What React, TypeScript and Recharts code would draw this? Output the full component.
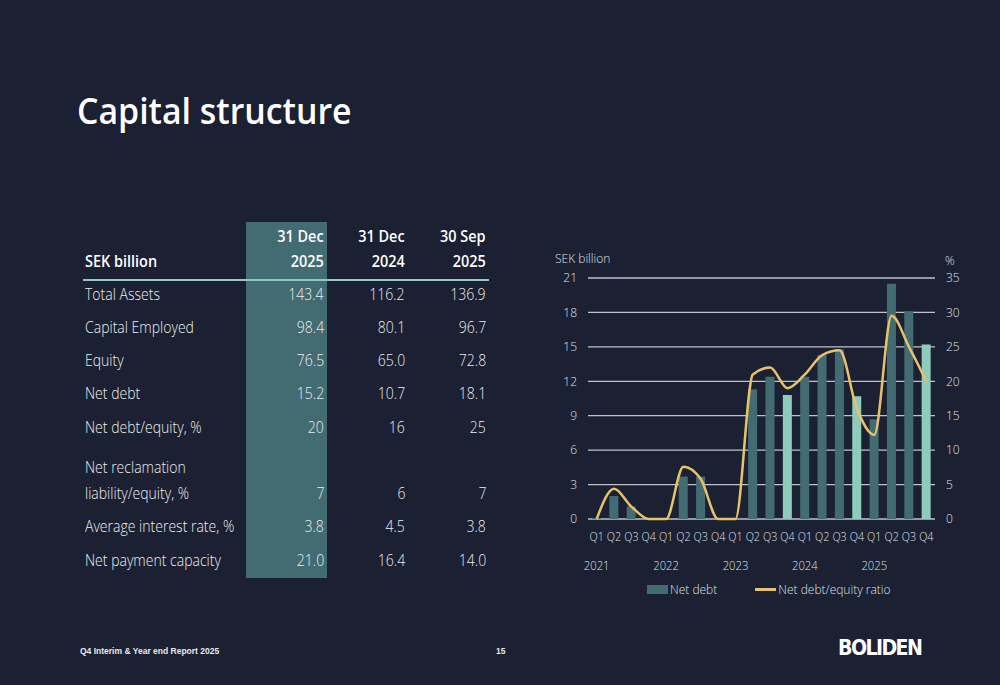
import { ComposedChart, Bar, Line, XAxis, YAxis, CartesianGrid, Cell } from "recharts";

const quarters = [
  "Q1", "Q2", "Q3", "Q4", "Q1", "Q2", "Q3", "Q4", "Q1", "Q2",
  "Q3", "Q4", "Q1", "Q2", "Q3", "Q4", "Q1", "Q2", "Q3", "Q4",
];
const years = [
  "2021", "2021", "2021", "2021", "2022", "2022", "2022", "2022", "2023", "2023",
  "2023", "2023", "2024", "2024", "2024", "2024", "2025", "2025", "2025", "2025",
];
const netDebt = [
  0.1, 2.0, 1.1, 0, 0, 3.7, 3.7, 0, 0, 11.3,
  12.4, 10.8, 12.4, 14.3, 14.8, 10.7, 8.7, 20.5, 18.1, 15.2,
];
const debtEquityRatio = [
  0, 4.4, 1.8, 0, 0, 7.6, 5.8, 0, 0, 21.0,
  22.0, 19.0, 21.0, 23.8, 24.5, 16.0, 12.2, 29.5, 25.0, 20.0,
];
const leftTicks = [0, 3, 6, 9, 12, 15, 18, 21];
const rightTicks = [0, 5, 10, 15, 20, 25, 30, 35];

const tableHeadTop = ["31 Dec", "31 Dec", "30 Sep"];
const tableHeadBottom = ["2025", "2024", "2025"];
const rowLabels = [
  "Total Assets",
  "Capital Employed",
  "Equity",
  "Net debt",
  "Net debt/equity, %",
  "Net reclamation\nliability/equity, %",
  "Average interest rate, %",
  "Net payment capacity",
];
const dec2025 = ["143.4", "98.4", "76.5", "15.2", "20", "7", "3.8", "21.0"];
const dec2024 = ["116.2", "80.1", "65.0", "10.7", "16", "6", "4.5", "16.4"];
const sep2025 = ["136.9", "96.7", "72.8", "18.1", "25", "7", "3.8", "14.0"];

const BG = "#1b2032";
const DARK = "#436b72";
const LIGHT = "#8ecbba";
const GOLD = "#e8c26a";
const FONT = "'Open Sans', sans-serif";
const TICK = "#dfe2e6";

const chartData = quarters.map((q, i) => ({
  key: `${years[i]} ${q}`,
  netDebt: netDebt[i],
  ratio: debtEquityRatio[i],
}));

const QuarterTick = (props: any) => {
  const { x, y, payload } = props;
  const [year, q] = String(payload.value).split(" ");
  return (
    <g>
      <text
        transform={`translate(${x},${y + 14}) scale(0.86,1)`}
        textAnchor="middle"
        fill={TICK}
        fontSize={12.5}
        fontFamily={FONT}
        fontWeight={300}
      >
        {q}
      </text>
      {q === "Q1" && (
        <text
          transform={`translate(${x},${y + 43}) scale(0.9,1)`}
          textAnchor="middle"
          fill={TICK}
          fontSize={12.5}
          fontFamily={FONT}
          fontWeight={300}
        >
          {year}
        </text>
      )}
    </g>
  );
};

const rowCenters = [294, 327, 360, 393, 427, 480, 526, 560];
const colRights = [324, 405, 486];

// narrow the text like the slide's font does
const TableText = ({ text, x, center, align, bold }: { text: string; x: number; center: number; align: "left" | "right"; bold?: boolean }) => (
  <div
    style={{
      position: "absolute",
      ...(align === "left" ? { left: x } : { right: 1000 - x }),
      top: center - 12,
      height: 24,
      lineHeight: "24px",
      fontSize: bold ? 17 : 16.5,
      fontWeight: bold ? 600 : 300,
      color: bold ? "#ffffff" : "#eceef0",
      whiteSpace: "nowrap",
      transform: "scaleX(0.85)",
      transformOrigin: align === "left" ? "left center" : "right center",
    }}
  >
    {text}
  </div>
);

export default function App() {
  return (
    <div
      style={{
        position: "absolute",
        left: 0,
        top: 0,
        width: 1000,
        height: 685,
        background: BG,
        fontFamily: FONT,
        overflow: "hidden",
      }}
    >
      <div
        style={{
          position: "absolute",
          left: 77,
          top: 87,
          fontSize: 36,
          fontWeight: 600,
          color: "#fff",
          lineHeight: "48px",
          transform: "scaleX(0.94)",
          transformOrigin: "left center",
          whiteSpace: "nowrap",
        }}
      >
        Capital structure
      </div>

      {/* table */}
      <div style={{ position: "absolute", left: 246, top: 222, width: 81, height: 356, background: DARK }} />
      <div style={{ position: "absolute", left: 83, top: 279, width: 406, height: 2, background: LIGHT }} />
      <TableText text="SEK billion" x={85} center={261} align="left" bold />
      {tableHeadTop.map((t, i) => (
        <TableText key={"ht" + i} text={t} x={colRights[i]} center={236} align="right" bold />
      ))}
      {tableHeadBottom.map((t, i) => (
        <TableText key={"hb" + i} text={t} x={colRights[i]} center={261} align="right" bold />
      ))}
      {rowLabels.map((label, i) => {
        const lines = label.split("\n");
        return lines.map((ln, j) => (
          <TableText
            key={`rl${i}-${j}`}
            text={ln}
            x={85}
            center={lines.length > 1 ? (j === 0 ? 467 : 493) : rowCenters[i]}
            align="left"
          />
        ));
      })}
      {[dec2025, dec2024, sep2025].map((col, c) =>
        col.map((v, i) => (
          <TableText key={`v${c}-${i}`} text={v} x={colRights[c]} center={i === 5 ? 493 : rowCenters[i]} align="right" />
        ))
      )}

      {/* chart */}
      <div style={{ position: "absolute", left: 555, top: 250, fontSize: 12, fontWeight: 300, color: TICK }}>SEK billion</div>
      <div style={{ position: "absolute", left: 945, top: 252, fontSize: 12, fontWeight: 300, color: TICK }}>%</div>
      <div style={{ position: "absolute", left: 540, top: 245 }}>
        <ComposedChart width={430} height={340} data={chartData} margin={{ top: 33, right: 0, bottom: 0, left: 0 }}>
          <CartesianGrid vertical={false} stroke="#bfc3c9" strokeWidth={1.3} yAxisId="left" />
          <XAxis dataKey="key" interval={0} axisLine={false} tickLine={false} height={66} tick={<QuarterTick />} />
          <YAxis
            yAxisId="left"
            width={48}
            domain={[0, 21]}
            ticks={leftTicks}
            axisLine={false}
            tickLine={false}
            tickSize={0}
            tickMargin={11}
            tick={{ fill: TICK, fontSize: 12, fontFamily: FONT, fontWeight: 300 }}
          />
          <YAxis
            yAxisId="right"
            orientation="right"
            width={35}
            domain={[0, 35]}
            ticks={rightTicks}
            axisLine={false}
            tickLine={false}
            tickSize={0}
            tickMargin={11}
            tick={{ fill: TICK, fontSize: 12, fontFamily: FONT, fontWeight: 300, textAnchor: "start" }}
          />
          <Bar yAxisId="left" dataKey="netDebt" barSize={9} isAnimationActive={false}>
            {chartData.map((d, i) => (
              <Cell key={d.key} fill={quarters[i] === "Q4" ? LIGHT : DARK} />
            ))}
          </Bar>
          <Line yAxisId="right" dataKey="ratio" type="monotone" stroke={GOLD} strokeWidth={2.5} dot={false} isAnimationActive={false} />
        </ComposedChart>
      </div>
      {/* legend */}
      <div style={{ position: "absolute", left: 647, top: 581, display: "flex", alignItems: "center", fontSize: 12, fontWeight: 300, color: TICK }}>
        <span style={{ display: "inline-block", width: 21, height: 9, background: DARK, marginRight: 2 }} />
        <span style={{ marginRight: 38 }}>Net debt</span>
        <span style={{ display: "inline-block", width: 21, height: 3, background: GOLD, marginRight: 2 }} />
        <span>Net debt/equity ratio</span>
      </div>

      {/* footer */}
      <div style={{ position: "absolute", left: 80, top: 646, fontSize: 8.5, fontFamily: "'Liberation Sans Narrow', 'Liberation Sans', sans-serif", fontWeight: 700, color: "#e8eaec" }}>
        Q4 Interim &amp; Year end Report 2025
      </div>
      <div style={{ position: "absolute", left: 496, top: 646, fontSize: 8.5, fontFamily: "'Liberation Sans Narrow', 'Liberation Sans', sans-serif", fontWeight: 700, color: "#e8eaec" }}>
        15
      </div>
      <div style={{ position: "absolute", left: 838, top: 634, fontSize: 19, fontFamily: "'DejaVu Sans', sans-serif", fontWeight: 700, color: "#ffffff", letterSpacing: -1.6, lineHeight: "24px", transform: "scaleY(1.1)", transformOrigin: "left top" }}>
        BOLIDEN
      </div>
    </div>
  );
}
